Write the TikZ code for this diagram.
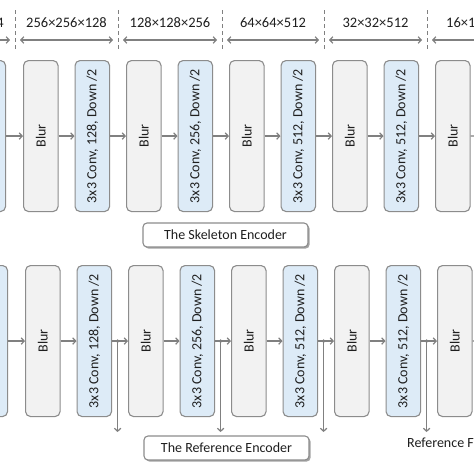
\documentclass[tikz,border=0pt]{standalone}
\usepackage{fontspec}
\setmainfont{Carlito}
\usetikzlibrary{arrows.meta,shadows,calc}
\definecolor{bord}{HTML}{8C8C8C}
\definecolor{blurfill}{HTML}{F2F2F2}
\definecolor{convfill}{HTML}{DDEBF7}
\definecolor{arr}{HTML}{808080}
\definecolor{txt}{HTML}{1F1F1F}
\begin{document}
\begin{tikzpicture}[x=1pt,y=-1pt,
  box/.style={draw=bord,line width=1.1pt,rounded corners=5pt,minimum width=34.5pt,minimum height=151pt,inner sep=0pt,anchor=north west,text=txt,font=\fontsize{14}{16}\selectfont},
  blurbox/.style={box,fill=blurfill},
  convbox/.style={box,fill=convfill},
  flow/.style={draw=arr,line width=1.2pt,-{Straight Barb[length=3pt,width=6.5pt]}},
  dimarrow/.style={draw=arr,line width=1.2pt,{Straight Barb[length=3pt,width=6.5pt]}-{Straight Barb[length=3pt,width=6.5pt]}},
  sepline/.style={draw=arr,line width=1pt,dash pattern=on 4pt off 3pt},
  dimlabel/.style={text=txt,font=\fontsize{14.5}{16}\selectfont,inner sep=0pt},
  encbox/.style={draw=bord,line width=1.1pt,rounded corners=4pt,fill=white,minimum width=165pt,minimum height=24pt,inner sep=0pt,text=txt,font=\fontsize{14}{16}\selectfont,drop shadow={shadow xshift=1.6pt,shadow yshift=-1.6pt,fill=black!45,opacity=0.8}},
  plainlabel/.style={text=txt,font=\fontsize{14}{16}\selectfont,inner sep=0pt}
]
\useasboundingbox (0,0) rectangle (474,474);
\fill[white] (0,0) rectangle (474,474);
\clip (0,0) rectangle (474,474);

% ---------- dimension header ----------
\foreach \i/\x in {0/15,1/118,2/222,3/324,4/427}{
  \coordinate (st\i) at (\x,10);
  \coordinate (sb\i) at (\x,50);
  \draw[sepline] (st\i) -- (sb\i);
}
\coordinate (al0) at (-60,40);
\coordinate (ar0) at (10,40);
\coordinate (al1) at (20,40);
\coordinate (ar1) at (113,40);
\coordinate (al2) at (123,40);
\coordinate (ar2) at (217,40);
\coordinate (al3) at (227,40);
\coordinate (ar3) at (319,40);
\coordinate (al4) at (329,40);
\coordinate (ar4) at (422,40);
\coordinate (al5) at (432,40);
\coordinate (ar5) at (520,40);
\foreach \i in {0,...,5}{\draw[dimarrow] (al\i) -- (ar\i);}
\node[dimlabel,anchor=east] (dim0) at (4,23) {4};
\node[dimlabel] (dim1) at (66.5,23) {256×256×128};
\node[dimlabel] (dim2) at (170,23) {128×128×256};
\node[dimlabel] (dim3) at (273,23) {64×64×512};
\node[dimlabel] (dim4) at (375.5,23) {32×32×512};
\node[dimlabel,anchor=west] (dim5) at (446,23) {16×1};

% ---------- skeleton encoder (top row) ----------
\node[convbox] (t0) at (-29.5,60) {};
\node[blurbox] (tb1) at (23,60) {\rotatebox{90}{Blur}};
\node[convbox] (tc1) at (74.5,60) {\rotatebox{90}{3x3 Conv, 128, Down /2}};
\node[blurbox] (tb2) at (126,60) {\rotatebox{90}{Blur}};
\node[convbox] (tc2) at (177.5,60) {\rotatebox{90}{3x3 Conv, 256, Down /2}};
\node[blurbox] (tb3) at (229,60) {\rotatebox{90}{Blur}};
\node[convbox] (tc3) at (280.5,60) {\rotatebox{90}{3x3 Conv, 512, Down /2}};
\node[blurbox] (tb4) at (332,60) {\rotatebox{90}{Blur}};
\node[convbox] (tc4) at (383.5,60) {\rotatebox{90}{3x3 Conv, 512, Down /2}};
\node[blurbox] (tb5) at (435,60) {\rotatebox{90}{Blur}};
\coordinate (tend) at (490,135.5);
\draw[flow] (t0.east) -- (tb1.west);
\draw[flow] (tb1.east) -- (tc1.west);
\draw[flow] (tc1.east) -- (tb2.west);
\draw[flow] (tb2.east) -- (tc2.west);
\draw[flow] (tc2.east) -- (tb3.west);
\draw[flow] (tb3.east) -- (tc3.west);
\draw[flow] (tc3.east) -- (tb4.west);
\draw[flow] (tb4.east) -- (tc4.west);
\draw[flow] (tc4.east) -- (tb5.west);
\draw[draw=arr,line width=1.2pt] (tb5.east) -- (tend);

\node[encbox] (skel) at (225.5,235) {The Skeleton Encoder};

% ---------- reference encoder (bottom row) ----------
\node[convbox] (b0) at (-27.5,265) {};
\node[blurbox] (bb1) at (25,265) {\rotatebox{90}{Blur}};
\node[convbox] (bc1) at (76.5,265) {\rotatebox{90}{3x3 Conv, 128, Down /2}};
\node[blurbox] (bb2) at (128,265) {\rotatebox{90}{Blur}};
\node[convbox] (bc2) at (179.5,265) {\rotatebox{90}{3x3 Conv, 256, Down /2}};
\node[blurbox] (bb3) at (231,265) {\rotatebox{90}{Blur}};
\node[convbox] (bc3) at (282.5,265) {\rotatebox{90}{3x3 Conv, 512, Down /2}};
\node[blurbox] (bb4) at (334,265) {\rotatebox{90}{Blur}};
\node[convbox] (bc4) at (385.5,265) {\rotatebox{90}{3x3 Conv, 512, Down /2}};
\node[blurbox] (bb5) at (437,265) {\rotatebox{90}{Blur}};
\coordinate (bend) at (490,340.5);
\draw[flow] (b0.east) -- (bb1.west);
\draw[flow] (bb1.east) -- (bc1.west);
\draw[flow] (bc1.east) -- (bb2.west);
\draw[flow] (bb2.east) -- (bc2.west);
\draw[flow] (bc2.east) -- (bb3.west);
\draw[flow] (bb3.east) -- (bc3.west);
\draw[flow] (bc3.east) -- (bb4.west);
\draw[flow] (bb4.east) -- (bc4.west);
\draw[flow] (bc4.east) -- (bb5.west);
\draw[draw=arr,line width=1.2pt] (bb5.east) -- (bend);

\foreach \i in {1,...,4}{
  \coordinate (br\i) at ($(bc\i.east)+(5.5,0)$);
  \coordinate (bd\i) at ($(br\i)+(0,91)$);
  \fill[arr] (br\i) circle (1.9);
  \draw[flow] (br\i) -- (bd\i);
}

\node[encbox] (refenc) at (226.5,448) {The Reference Encoder};
\node[plainlabel,anchor=west] (reff) at (407,443) {Reference F};
\end{tikzpicture}
\end{document}
